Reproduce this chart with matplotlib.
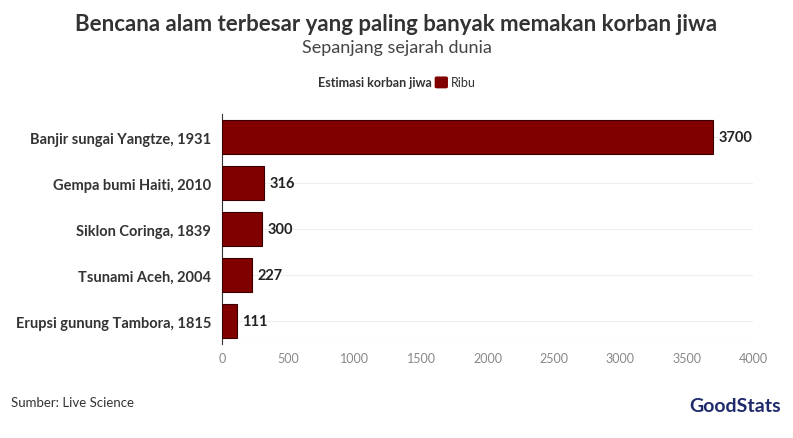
import matplotlib
matplotlib.use("Agg")
import matplotlib.pyplot as plt

categories = ["Banjir sungai Yangtze, 1931", "Gempa bumi Haiti, 2010", "Siklon Coringa, 1839",
              "Tsunami Aceh, 2004", "Erupsi gunung Tambora, 1815"]
values = [3700, 316, 300, 227, 111]
xticks = [0, 500, 1000, 1500, 2000, 2500, 3000, 3500, 4000]

plt.rcParams['font.family'] = ['Lato', 'DejaVu Sans']
fig = plt.figure(figsize=(7.93, 4.39), dpi=100)
ax = fig.add_axes([0.28, 0.214, 0.6696, 0.524])
y = list(range(len(categories)))
ax.barh(y, values, height=0.75, color="#800000", edgecolor="#3a0000", linewidth=0.8, zorder=3)
for yi, v in zip(y, values):
    ax.text(v + 40, yi, str(v), va="center", ha="left", fontsize=10.5, fontweight="bold", color="#222")
ax.set_yticks(y)
ax.set_yticklabels(categories, fontsize=10.5, fontweight="bold", color="#333")
ax.invert_yaxis()
ax.set_ylim(4.5, -0.5)
ax.set_xlim(0, 4000)
ax.set_xticks(xticks)
ax.set_xticklabels([str(t) for t in xticks], fontsize=9, color="#888")
for s in ["top", "right", "bottom"]:
    ax.spines[s].set_visible(False)
ax.spines["left"].set_color("#333")
ax.tick_params(axis="y", length=0, pad=8)
ax.tick_params(axis="x", length=0, pad=6)
for yi in y:
    ax.axhline(yi, color="#eeeeee", lw=0.8, zorder=0)
ax.axhline(4.5, color="#dddddd", lw=0.8, zorder=0)

fig.text(0.5, 0.945, "Bencana alam terbesar yang paling banyak memakan korban jiwa",
         ha="center", va="center", fontsize=16, fontweight="bold", color="#333")
fig.text(0.5, 0.89, "Sepanjang sejarah dunia", ha="center", va="center", fontsize=13, color="#444")
fig.text(0.545, 0.81, "Estimasi korban jiwa", ha="right", va="center", fontsize=9, fontweight="bold", color="#333")
fig.patches.append(matplotlib.patches.FancyBboxPatch((0.551, 0.800), 0.011, 0.02, boxstyle="round,pad=0.002",
                   transform=fig.transFigure, color="#800000"))
fig.text(0.568, 0.81, "Ribu", ha="left", va="center", fontsize=9, color="#333")
fig.text(0.014, 0.083, "Sumber: Live Science", ha="left", va="center", fontsize=9.5, color="#333")
fig.text(0.985, 0.075, "GoodStats", ha="right", va="center", fontsize=14, fontweight="bold", color="#1f2a6b")
fig.savefig("out.png", dpi=100)
